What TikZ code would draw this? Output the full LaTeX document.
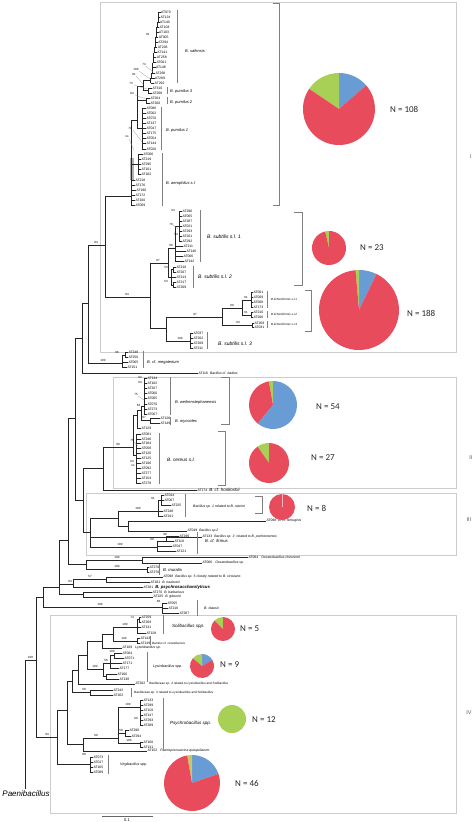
\documentclass[tikz,border=0pt]{standalone}
\usepackage{fontspec}
\setmainfont{Liberation Sans}
\newfontfamily\carl{Carlito}
\newcounter{lfc}\newcounter{bsc}
\definecolor{pred}{RGB}{232,76,92}
\definecolor{pblue}{RGB}{105,155,212}
\definecolor{pgreen}{RGB}{168,208,86}
\definecolor{pyel}{RGB}{200,200,100}
\tikzset{
 tree/.style={draw=black!85,line width=0.65pt},
 brk/.style={draw=black!50,line width=0.4pt},
 boxs/.style={draw=black!20,line width=0.8pt},
 lead/.style={draw=black!45,line width=0.2pt},
 lf/.style={font=\fontsize{3.4}{4}\selectfont,inner sep=0.3pt,anchor=west},
 bsn/.style={font=\fontsize{3}{3.5}\selectfont,inner sep=0pt},
 sp/.style={font=\fontsize{#1}{#1}\selectfont\itshape,inner sep=0pt,anchor=west},
 nl/.style={font=\carl\fontsize{9}{10}\selectfont,inner sep=0pt,anchor=west,text=black!85},
 rom/.style={font=\fontsize{5.5}{6}\selectfont,text=black!65,inner sep=0pt},
}
\newcommand\VL[3]{\draw[tree] (#1,#2) -- (#1,#3);}
\newcommand\HL[3]{\draw[tree] (#1,#3) -- (#2,#3);}
\newcommand\LF[4]{\draw[tree] (#1,#3) -- (#2,#3);\stepcounter{lfc}\node[lf] (lf\arabic{lfc}) at (#2,#3) {#4};}
\newcommand\BS[3]{\stepcounter{bsc}\node[bsn] (bs\arabic{bsc}) at (#1,#2) {#3};}
\newcommand\BR[3]{\draw[brk] (#1,#2) -- (#1,#3);}
\newcommand\BIG[4]{\draw[brk] (#2,#3) -- (#1,#3) -- (#1,#4) -- (#2,#4);}
\newcommand\SL[6]{\fill[#6] (#1,#2) -- ++(#4:#3pt) arc[start angle=#4,end angle=#5,radius=#3pt] -- cycle;}
\begin{document}
\begin{tikzpicture}[x=1pt,y=-1pt]
\useasboundingbox (0,0) rectangle (474,822);
\fill[white] (0,0) rectangle (474,822);
% boxes
\draw[boxs] (100,2) rectangle (456,352);
\draw[boxs] (113,377) rectangle (456,488);
\draw[boxs] (86,493) rectangle (456,555);
\draw[boxs] (50,615) rectangle (456,813);
\node[rom] (rI) at (471,157) {I};
\node[rom] (rII) at (471,458) {II};
\node[rom] (rIII) at (469,520) {III};
\node[rom] (rIV) at (469,713) {IV};

% ===== pumilus group
\fill[black!30] (130,158) rectangle (133.5,180);
\HL{105}{131}{196}
\VL{131}{120}{205}
\LF{131}{135}{180}{AT218}\LF{131}{135}{185}{AT176}\LF{131}{136}{190}{AT190}
\LF{131}{135}{195}{AT172}\LF{131}{135}{200}{AT100}\LF{131}{135}{205}{AT069}
\HL{131}{138}{164}\VL{138}{154}{174}
\LF{138}{143}{154}{AT006}\LF{138}{141}{159}{AT219}\LF{138}{141}{164}{AT295}
\LF{138}{141}{169}{AT101}\LF{138}{141}{174}{AT182}
\HL{131}{137}{120}\VL{137}{86}{128}
\HL{137}{142}{128}\VL{142}{108}{149}
\foreach \yy/\nm [count=\k] in {108/AT086,113/AT002,118/AT070,123/AT137,128/AT047,133/AT175,138/AT054,143/AT144,149/AT020}{
 \draw[tree] (142,\yy) -- (146,\yy); \node[lf] (pa\k) at (146,\yy) {\nm};}
\HL{137}{146}{100}\VL{146}{98}{103}
\LF{146}{150}{98}{AT204}\LF{146}{150}{103}{AT200}
\HL{137}{143}{86}\VL{143}{80}{90}
\HL{143}{148}{90}\VL{148}{88}{93}
\LF{148}{152}{88}{AT310}\LF{148}{152}{93}{AT208}
\HL{143}{150.7}{80}
\foreach \i/\nm in {0/AT070,1/AT124,2/AT140,3/AT108,4/AT103,5/AT005,6/AT204,7/AT203,8/AT141,9/AT258,10/AT001,11/AT148,12/AT268,13/AT289,14/AT292}{
 \pgfmathsetmacro\yy{12+5.07*\i}
 \pgfmathsetmacro\yp{12+5.07*(\i-1)}
 \pgfmathsetmacro\tip{160.5-0.45*\i}
 \pgfmathsetmacro\xk{158.5-0.6*max(\i-1,0)}
 \pgfmathsetmacro\xq{158.5-0.6*max(\i-2,0)}
 \draw[tree] (\xk,\yy) -- (\tip,\yy);
 \node[lf] (saf\i) at (\tip,\yy) {\nm};
 \ifnum\i>0 \draw[tree] (\xk,\yp) -- (\xk,\yy); \fi
 \ifnum\i>1 \draw[tree] (\xk,\yp) -- (\xq,\yp); \fi
}
\BS{148}{34}{81}
\BS{144}{64}{74}\draw[lead] (146,66) -- (153,72);
\BS{136}{69}{100}\draw[lead] (139,71) -- (150,79);
\BS{134}{74}{81}\draw[lead] (136,76) -- (143,84);
\BS{131}{83}{73}\draw[lead] (134,85) -- (147,89);
\BS{132}{93}{84}\draw[lead] (135,95) -- (146,99);
\BS{130}{128}{79}\draw[lead] (133,130) -- (142,142);
\BS{127}{137}{ns}\draw[lead] (129,139) -- (134,150);
\BR{177}{10}{83}\node[sp=4] (safL) at (185,51) {B. safensis};
\BR{167}{87}{94}\node[sp=4] (pu3L) at (170,91) {B. pumilus 3};
\BR{167}{97}{104}\node[sp=4] (pu2L) at (170,102) {B. pumilus 2};
\BR{161}{107}{150}\node[sp=4] (pu1L) at (166,130) {B. pumilus 1};
\BR{162}{153}{206}\node[sp=4] (aerL) at (166,183) {B. aerophilus s.l.};
\BIG{279}{273}{3}{205}

% ===== subtilis group
\HL{105}{150}{297}\BS{127}{294}{84}
\VL{150}{263}{328}
\HL{150}{168}{263}\BS{158}{260.5}{87}
\VL{168}{248}{277}
\HL{168}{175}{248}\BS{171}{245.5}{66}
\VL{175}{226}{261}
\HL{175}{179}{226}\VL{179}{211}{241}
\foreach \yy/\nm [count=\k] in {211/AT296,216/AT065,221/AT287,226/AT021,231/AT293,236/AT201,241/AT292}{
 \draw[tree] (179,\yy) -- (182,\yy); \node[lf] (sa\k) at (182,\yy) {\nm};}
\LF{175}{183}{246}{AT211}\LF{175}{186}{251}{AT146}\LF{175}{183}{256}{AT066}\LF{175}{184}{261}{AT142}
\BS{173}{210}{64}\BS{171}{224}{70}\draw[lead] (173,225) -- (178,229);
\BS{176}{234}{54}
\HL{168}{171}{277}\VL{171}{269}{285}
\HL{171}{173}{269}\VL{173}{267}{272}
\LF{173}{176}{267}{AT210}\LF{173}{176}{272}{AT207}\LF{171}{176}{277}{AT213}
\HL{171}{173}{285}\VL{173}{282}{287}
\LF{173}{176}{282}{AT217}\LF{173}{176}{287}{AT209}
\BS{166}{267.5}{53}\BS{166}{281.5}{53}
\HL{150}{166}{328}\VL{166}{317}{341}
\HL{166}{222}{317}\BS{195}{314}{97}
\VL{222}{308}{325}
\HL{222}{242}{308}\BS{232}{305.5}{69}
\VL{242}{300}{315}
\HL{242}{251}{300}\BS{246}{297.5}{61}
\VL{251}{292}{307}
\LF{251}{253}{292}{AT001}\LF{251}{253}{297}{AT009}\LF{251}{253}{302}{AT008}\LF{251}{253}{307}{AT173}
\HL{242}{251}{315}\BS{246}{312.5}{61}
\VL{251}{312}{317}
\LF{251}{253}{312}{AT210}\LF{251}{253}{317}{AT206}
\HL{222}{252}{325}\BS{238}{322.5}{84}
\VL{252}{323}{327}
\LF{252}{254}{323}{AT169}\LF{252}{254}{327}{AT031}
\HL{166}{190}{341}\BS{180}{338.5}{100}
\VL{190}{333}{348}
\LF{190}{193}{333}{AT037}\LF{190}{193}{338}{AT202}\LF{190}{193}{343}{AT209}\LF{190}{193}{348}{AT211}
\BR{200}{210}{262}\node[sp=5] (s1L) at (207,237) {B. subtilis s.l. 1};
\BR{193}{266}{288}\node[sp=5] (s2L) at (198,277) {B. subtilis s.l. 2};
\BR{207}{332}{349}\node[sp=5] (s3L) at (218,344) {B. subtilis s.l. 3};
\BR{267}{291}{308}\node[sp=3] (l1L) at (271,299.5) {B.licheniformis s.l.1};
\BR{267}{311}{318}\node[sp=3] (l2L) at (271,314.5) {B.licheniformis s.l.2};
\BR{267}{321}{328}\node[sp=3] (l3L) at (271,324.5) {B.licheniformis s.l.3};
\BIG{302}{294}{212}{285}
\BIG{311}{305}{290}{331}

% ===== megaterium / badius
\VL{105}{196}{297}
\HL{88}{105}{245}\BS{96}{242}{84}
\VL{88}{245}{363}
\HL{88}{122}{363}\BS{103}{360}{100}
\VL{122}{355}{367}
\HL{122}{125}{355}\VL{125}{352}{357}
\LF{125}{128}{352}{AT248}\LF{125}{128}{357}{AT250}\LF{122}{128}{362}{AT065}\LF{122}{127}{367}{AT151}
\BS{117}{352}{66}
\BR{143}{351}{368}\node[sp=4] (megL) at (147,362) {B. cf. megaterium};
\HL{82}{88}{303}\VL{82}{303}{373}
\LF{82}{198}{373}{AT116\hspace{2pt}\textit{Bacillus cf. badius}}
\HL{75}{82}{338}\VL{75}{338}{500}

% ===== box II
\HL{75}{83}{500}\VL{83}{468}{532}
\HL{83}{103}{468}\VL{103}{447}{490}
\LF{103}{197}{490}{AT174\hspace{2pt}{\fontsize{4.4}{5}\selectfont\itshape B. cf. horikoshii}}
\HL{103}{133}{447}\BS{118}{444}{99}
\VL{133}{415}{455}
\HL{133}{137}{415}\VL{137}{410}{428}
\HL{137}{141}{410}\VL{141}{406}{420}
\HL{141}{144}{406}\VL{144}{378}{414}
\foreach \yy/\nm [count=\k] in {378/AT134,383/AT102,388/AT207,393/AT060,398/AT065,404/AT070,409/AT273,414/AT067}{
 \draw[tree] (144,\yy) -- (147,\yy); \node[lf] (we\k) at (147,\yy) {\nm};}
\HL{141}{150}{420}\VL{150}{418}{423}
\LF{150}{160}{418}{AT126}\LF{150}{160}{423}{AT149}
\LF{137}{141}{428}{AT129}
\BS{140}{377}{92}\BS{140}{382}{64}
\BS{136}{394}{75}\draw[lead] (138,396) -- (144,400);
\BS{138.5}{405}{63}\BS{144}{417}{67}
\HL{133}{136}{455}\VL{136}{434}{483}
\foreach \i/\nm in {0/AT081,1/AT246,2/AT184,3/AT058,4/AT120,5/AT125,6/AT106,7/AT092,8/AT277,9/AT154,10/AT278}{
 \pgfmathsetmacro\yy{434+4.9*\i}
 \draw[tree] (136,\yy) -- (141,\yy); \node[lf] (ce\i) at (141,\yy) {\nm};}
\BS{132}{440}{75}\draw[lead] (134,442) -- (138,446);
\BS{132}{461}{64}\BS{133}{466}{ns}
\BR{170}{377}{415}\node[sp=4] (weL) at (175,402) {B. weihenstephanensis};
\BR{170}{417}{425}\node[sp=4] (myL) at (175,421) {B. mycoides};
\BR{159}{433}{484}\node[sp=4.8] (ceL) at (167,460) {B. cereus s.l.};
\BIG{229}{221}{377}{424}
\BIG{225}{218}{431}{485}

% ===== box III
\HL{83}{90}{532}\VL{90}{518}{547}
\HL{90}{118}{518}\VL{118}{511}{526}
\HL{118}{158}{511}\BS{138}{508}{100}
\VL{158}{500}{516}
\HL{158}{161}{500}\VL{161}{495}{505}
\LF{161}{164}{495}{AT044}\LF{161}{164}{500}{AT007}\LF{161}{171}{505}{AT225}
\LF{158}{163}{511}{AT248}\LF{158}{163}{516}{AT241}
\BS{153}{498}{61}
\HL{118}{128}{526}\VL{128}{521}{531}
\LF{128}{266}{521}{AT098\hspace{2pt}\textit{B. cf. ferruginis}}
\LF{128}{187}{531}{AT049\hspace{2pt}\textit{Bacillus sp.2}}
\LF{90}{202}{537}{AT133\hspace{2pt}\textit{Bacillus sp. 3}\hspace{2pt}related to \textit{B. pocheonensis}}
\HL{90}{157}{547}\BS{120}{544.5}{100}
\VL{157}{541}{551}
\HL{157}{166}{541}\VL{166}{536}{541}
\LF{166}{179}{536}{AT299}\LF{166}{174}{541}{AT118}
\LF{157}{172}{546}{AT047}\LF{157}{176}{551}{AT121}
\BS{152}{539}{60}\BS{165}{534}{98}
\BR{185}{494}{517}\node[sp=3.5] (niL) at (193,507) {Bacillus sp. 1 related to B. niacini};
\BR{197}{532}{554}\node[sp=4.2] (fiL) at (205,541) {B. cf. firmus};
\BIG{262}{255}{496}{513}

% ===== between III and IV
\HL{68}{75}{418}\VL{68}{418}{564}
\HL{68}{86}{564}\VL{86}{560}{569}
\HL{86}{142}{560}\BS{117}{557}{100}
\VL{142}{557}{563}
\LF{142}{248}{557}{AT084\hspace{3pt}\textit{Oceanobacillus chironomi}}
\LF{142}{202}{563}{AT066\hspace{3pt}\textit{Oceanobacillus sp.}}
\HL{86}{147}{569}\BS{117}{566.5}{100}
\VL{147}{567}{572}
\LF{147}{149}{567}{AT270}\LF{147}{149}{572}{AT276}
\BR{159}{564}{575}\node[sp=4.2] (muL) at (163,569.5) {B. muralis};
\HL{59}{68}{540}\VL{59}{540}{594}
\HL{59}{73}{584}\BS{70}{581.5}{63}
\VL{73}{579}{587}
\HL{73}{106}{579}\BS{90}{576.5}{57}
\VL{106}{577}{582}
\LF{106}{163}{577}{AT098\hspace{2pt}\textit{Bacillus sp. 5 closely related to B. circulans}}
\LF{106}{150}{582}{AT181\hspace{2pt}\textit{B. nealsonii}}
\LF{73}{143}{587}{AT281\hspace{2pt}{\fontsize{4.3}{5}\selectfont\bfseries\itshape B. psychrosaccharolyticus}}
\HL{59}{83}{594}\VL{83}{592}{597}
\LF{83}{152}{592}{AT270\hspace{2pt}\textit{B. barbaricus}}
\LF{83}{153}{597}{AT225\hspace{2pt}\textit{B. gibsonii}}
\HL{43}{59}{587}\VL{43}{587}{607}
\HL{43}{162}{607}\BS{100}{604.5}{100}
\VL{162}{603}{613}
\LF{162}{167}{603}{AT055}\LF{162}{168}{608}{AT216}\LF{162}{179}{613}{AT287}
\BS{158.5}{601}{66}
\BR{197}{600}{616}\node[sp=3.6] (clL) at (204,608) {B. clausii};
\HL{36}{43}{597}\VL{36}{597}{737}
\HL{25}{36}{660}\BS{30.5}{657}{100}
\VL{25}{660}{789}
\node[font=\fontsize{8}{9}\selectfont\itshape,inner sep=0pt] (paeL) at (26,793.5) {Paenibacillus};

% ===== box IV
\HL{36}{57}{737}\BS{47}{734.5}{93}
\VL{57}{710}{764}
\HL{57}{90}{764}\VL{90}{757}{772}
\LF{90}{93}{757}{AT073}\LF{90}{93}{762}{AT017}\LF{90}{93}{767}{AT165}\LF{90}{93}{772}{AT089}
\BS{84}{754.5}{68}
\BR{108}{755}{774}\node[sp=3.6] (viL) at (120,765) {Virgibacillus spp.};
\HL{57}{67}{710}\VL{67}{681}{744}
\HL{67}{83}{744}\VL{83}{738}{751}
\HL{83}{118}{738}\BS{96}{735.5}{69}
\LF{83}{147}{751}{AT152\hspace{3pt}\textit{Paenisporosarcina quisquiliarum}}
\VL{118}{707}{743}
\HL{118}{140}{707}\BS{128}{704.5}{100}
\VL{140}{700}{725}
\foreach \yy/\nm [count=\k] in {700/AT133,705/AT299,710/AT119,715/AT147,720/AT293,725/AT289}{
 \draw[tree] (140,\yy) -- (143,\yy); \node[lf] (ps\k) at (143,\yy) {\nm};}
\BS{136}{718}{60}
\HL{118}{125}{733}\BS{121}{730.5}{59}
\VL{125}{730}{736}
\LF{125}{129}{730}{AT290}\LF{125}{131}{736}{AT294}
\HL{118}{140}{743}\BS{129}{740.5}{100}
\VL{140}{742}{747}
\LF{140}{143}{742}{AT160}\LF{140}{143}{747}{AT131}
\BR{163}{698}{749}\node[sp=4.5] (psL) at (170,723) {Psychrobacillus spp.};
\HL{67}{72}{681}\VL{72}{670}{692}
\HL{72}{90}{692}\BS{84}{689.5}{58}
\VL{90}{690}{695}
\LF{90}{113}{690}{AT242}\LF{90}{113}{695}{AT162}
\BR{131}{688}{697}
\node[sp=3.1,font=\fontsize{3.1}{4}\selectfont] (b3L) at (134,692.5) {\textit{Bacillaceae} sp. 3 related to \textit{Lysinibacillus} and \textit{Solibacillus}};
\HL{72}{78}{670}\VL{78}{655}{684}
\LF{78}{135}{684}{AT202\hspace{4pt}{\fontsize{3.1}{4}\selectfont\textit{Bacillaceae} sp. 2 related to \textit{Lysinibacillus} and \textit{Solibacillus}}}
\HL{78}{87}{655}\VL{87}{641}{669}
\HL{87}{103}{669}\BS{95}{666.5}{100}
\VL{103}{663}{676}
\HL{103}{110}{663}\VL{110}{655.5}{668}
\HL{110}{114}{655.5}\VL{114}{653}{658}
\LF{114}{122}{653}{AT004}\LF{114}{124}{658}{AT071}
\LF{110}{122}{663}{AT171}\LF{110}{119}{668}{AT177}
\HL{103}{106}{676}\VL{106}{674}{679}
\LF{106}{117}{674}{AT166}\LF{106}{119}{679}{AT138}
\BS{112}{651}{100}\BS{106}{660.5}{56}
\BR{147}{652}{682}\node[sp=3.6] (lyL) at (153,667) {Lysinibacillus spp.};
\HL{87}{102}{641}\VL{102}{634}{648}
\HL{102}{113}{634}\VL{113}{627}{641}
\HL{113}{137}{627}\BS{125}{624.5}{100}
\VL{137}{619.5}{633}
\HL{137}{139}{619.5}\VL{139}{617}{622}
\LF{139}{141}{617}{AT259}\LF{139}{141}{622}{AT209}\LF{137}{141}{627}{AT131}\LF{137}{146}{633}{AT128}
\BS{132}{617}{74}
\HL{113}{137}{641}\BS{124}{638.5}{100}
\VL{137}{638}{643}
\LF{137}{140}{638}{AT143}\LF{137}{140}{643}{AT149}
\BR{150}{636}{645}\node[sp=3] (ccL) at (152,643) {Bacillus cf. cecembensis};
\LF{102}{122}{648}{AT109\hspace{3pt}\textit{Lysinibacillus sp.}}
\BR{163}{615}{634}\node[sp=4.5] (soL) at (172,626) {Solibacillus spp.};

% scale bar
\draw[draw=black!60,line width=0.8pt] (102,816) -- (153,816);
\node[font=\fontsize{4}{4}\selectfont,inner sep=0pt] (scL) at (127,820) {0.1};

% ===== pies
\SL{339}{109}{36}{41}{90}{pblue}\SL{339}{109}{36}{90}{146}{pgreen}\SL{339}{109}{36}{146}{401}{pred}
\node[nl] (n108) at (390,109) {N = 108};
\SL{329}{248}{17}{90}{103}{pgreen}\SL{329}{248}{17}{103}{450}{pred}
\node[nl] (n23) at (360,248) {N = 23};
\SL{359}{310}{40}{64}{90}{pblue}\SL{359}{310}{40}{90}{95}{pgreen}\SL{359}{310}{40}{95}{424}{pred}
\node[nl] (n188) at (407,313) {N = 188};
\SL{273}{405}{24}{90}{100}{pgreen}\SL{273}{405}{24}{100}{231}{pred}\SL{273}{405}{24}{231}{450}{pblue}
\node[nl] (n54) at (316,407) {N = 54};
\SL{269}{463}{20}{90}{125}{pgreen}\SL{269}{463}{20}{125}{450}{pred}
\node[nl] (n27) at (311,458) {N = 27};
\SL{282}{507}{13}{0}{360}{pred}\draw[white!60!pred,line width=0.3pt] (282,507) -- (282,494);
\node[nl] (n8) at (307,508) {N = 8};
\SL{223}{629}{12}{90}{135}{pgreen}\SL{223}{629}{12}{135}{450}{pred}
\node[nl] (n5) at (240,629) {N = 5};
\SL{202}{666}{12}{30}{90}{pblue}\SL{202}{666}{12}{90}{140}{pgreen}\SL{202}{666}{12}{140}{390}{pred}
\node[nl] (n9) at (220,665) {N = 9};
\fill[pgreen] (232,719) circle[radius=14pt];
\node[nl] (n12) at (252,720) {N = 12};
\SL{192}{783}{28}{19}{90}{pblue}\SL{192}{783}{28}{90}{100}{pyel}\SL{192}{783}{28}{100}{379}{pred}
\node[nl] (n46) at (235,783) {N = 46};
\end{tikzpicture}
\end{document}
